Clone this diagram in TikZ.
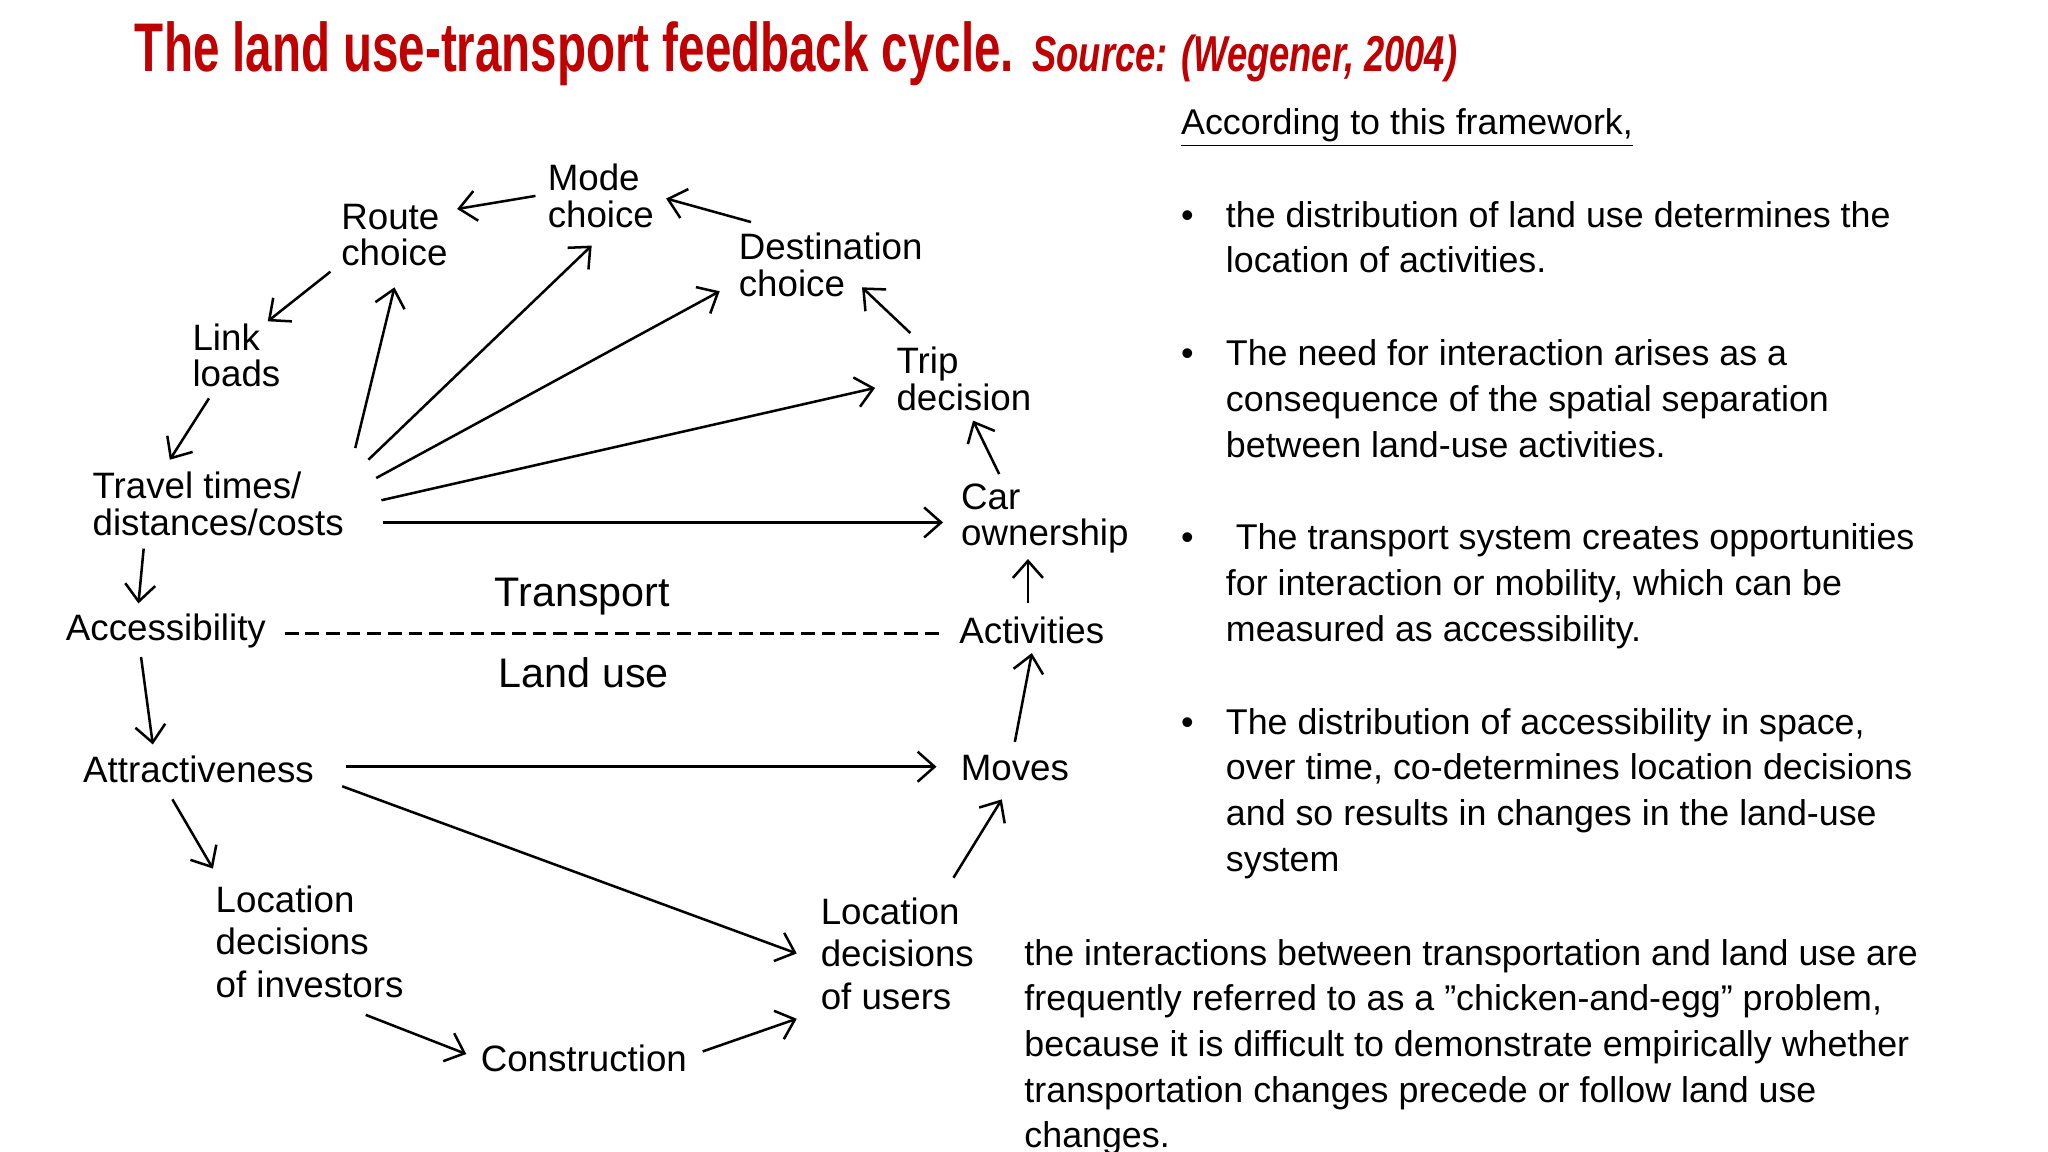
\documentclass[tikz,border=0pt]{standalone}
\usepackage{fontspec}
\setmainfont{Liberation Sans}
\usetikzlibrary{arrows.meta}
\definecolor{titlered}{HTML}{C00000}
\begin{document}
\begin{tikzpicture}[x=0.02cm,y=-0.02cm,
  lab/.style={font=\fontsize{16}{16}\selectfont, align=left, inner sep=0pt},
  lab2/.style={font=\fontsize{16}{18.5}\selectfont, align=left, inner sep=0pt},
  arr/.style={-{Straight Barb[length=2.6mm,width=4.6mm]}, line width=1.1pt},
  body/.style={font=\fontsize{15.6}{19.9}\selectfont, align=left, inner sep=0pt, anchor=north west}]
\useasboundingbox (0,0) rectangle (1568,882);
% title
\node[anchor=base west, inner sep=0pt, text=titlered] (title) at (103,55)
  {\scalebox{0.69}[1]{\fontsize{30}{30}\selectfont\bfseries The land use-transport feedback cycle.}\hspace{8pt}\scalebox{0.72}[1]{\fontsize{22}{22}\selectfont\bfseries\itshape Source: (Wegener, 2004)}};
% diagram nodes
\node[lab] (mode) at (460,150) {Mode\\choice};
\node[lab] (route) at (302,180) {Route\\choice};
\node[lab] (dest) at (636,203) {Destination\\choice};
\node[lab] (link) at (181,272) {Link\\loads};
\node[lab] (trip) at (738,290) {Trip\\decision};
\node[lab] (trav) at (167,386) {Travel times/\\distances/costs};
\node[lab] (car) at (800,397) {Car\\ownership};
\node[lab] (acc) at (127,483) {Accessibility};
\node[lab] (act) at (790,483) {Activities};
\node[lab,font=\fontsize{18}{18}\selectfont] (tr) at (446,457) {Transport};
\node[lab,font=\fontsize{18}{18}\selectfont] (lu) at (447,515) {Land use};
\node[lab] (attr) at (152,589) {Attractiveness};
\node[lab] (moves) at (777,588) {Moves};
\node[lab2] (inv) at (237,721) {Location\\decisions\\of investors};
\node[lab2] (usr) at (687,730) {Location\\decisions\\of users};
\node[lab] (con) at (447,810) {Construction};
% connector end points
\coordinate (f1) at (272,343);
\coordinate (f2) at (282,352);
\coordinate (f3) at (288,366);
\coordinate (f4) at (292,383);
\coordinate (f5) at (293,400);
\coordinate (mw) at (410,150); \coordinate (rne) at (350,160);
\coordinate (dnw) at (575,170); \coordinate (me) at (510,152);
\coordinate (rsw) at (253,208); \coordinate (ln) at (205,246);
\coordinate (ls) at (160,305); \coordinate (tn) at (130,352);
\coordinate (tpn) at (697,255); \coordinate (ds) at (660,220);
\coordinate (cn) at (765,363); \coordinate (tps) at (745,322);
\coordinate (rs) at (302,220); \coordinate (ms) at (453,188);
\coordinate (dsw) at (551,223); \coordinate (tpw) at (670,297);
\coordinate (cw) at (722,400);
\coordinate (ts) at (110,420); \coordinate (an) at (106,462);
\coordinate (ae) at (218,485); \coordinate (actw) at (720,485);
\coordinate (actn) at (787,462); \coordinate (cs) at (787,428);
\coordinate (as) at (108,503); \coordinate (atn) at (117,570);
\coordinate (mn) at (777,568); \coordinate (acts) at (790,500);
\coordinate (ate) at (265,587); \coordinate (mvw) at (717,587);
\coordinate (ate2) at (262,602); \coordinate (uw) at (610,730);
\coordinate (ats) at (132,612); \coordinate (in) at (163,665);
\coordinate (un) at (730,672); \coordinate (mvs) at (767,612);
\coordinate (is) at (280,777); \coordinate (cnw) at (357,807);
\coordinate (cne) at (538,805); \coordinate (usw) at (610,780);
% arrows
\draw[arr] (mw) -- (rne);
\draw[arr] (dnw) -- (me);
\draw[arr] (rsw) -- (ln);
\draw[arr] (ls) -- (tn);
\draw[arr] (tpn) -- (ds);
\draw[arr] (cn) -- (tps);
\draw[arr] (f1) -- (rs);
\draw[arr] (f2) -- (ms);
\draw[arr] (f3) -- (dsw);
\draw[arr] (f4) -- (tpw);
\draw[arr] (f5) -- (cw);
\draw[arr] (ts) -- (an);
\draw[line width=1.1pt, dash pattern=on 6pt off 3pt] (ae) -- (actw);
\draw[arr] (actn) -- (cs);
\draw[arr] (as) -- (atn);
\draw[arr] (mn) -- (acts);
\draw[arr] (ate) -- (mvw);
\draw[arr] (ate2) -- (uw);
\draw[arr] (ats) -- (in);
\draw[arr] (un) -- (mvs);
\draw[arr] (is) -- (cnw);
\draw[arr] (cne) -- (usw);
% right text
\node[body, anchor=base west] (hd) at (904,103) {\underline{According to this framework,}};
\node[body, anchor=base west] (b1) at (904,174) {•\hspace{0.9em}\parbox[t]{12cm}{\fontsize{15.6}{19.9}\selectfont the distribution of land use determines the\\location of activities.}};
\node[body, anchor=base west] (b2) at (904,280) {•\hspace{0.9em}\parbox[t]{12cm}{\fontsize{15.6}{19.9}\selectfont The need for interaction arises as a\\consequence of the spatial separation\\between land-use activities.}};
\node[body, anchor=base west] (b3) at (904,421) {•\hspace{0.9em}\parbox[t]{12cm}{\fontsize{15.6}{19.9}\selectfont \ The transport system creates opportunities\\for interaction or mobility, which can be\\measured as accessibility.}};
\node[body, anchor=base west] (b4) at (904,562) {•\hspace{0.9em}\parbox[t]{12cm}{\fontsize{15.6}{19.9}\selectfont The distribution of accessibility in space,\\over time, co-determines location decisions\\and so results in changes in the land-use\\system}};
\node[body, anchor=base west] (para) at (784,739) {\parbox[t]{16cm}{\fontsize{15.6}{19.9}\selectfont the interactions between transportation and land use are\\frequently referred to as a "chicken-and-egg" problem,\\because it is difficult to demonstrate empirically whether\\transportation changes precede or follow land use\\changes.}};
\end{tikzpicture}
\end{document}
